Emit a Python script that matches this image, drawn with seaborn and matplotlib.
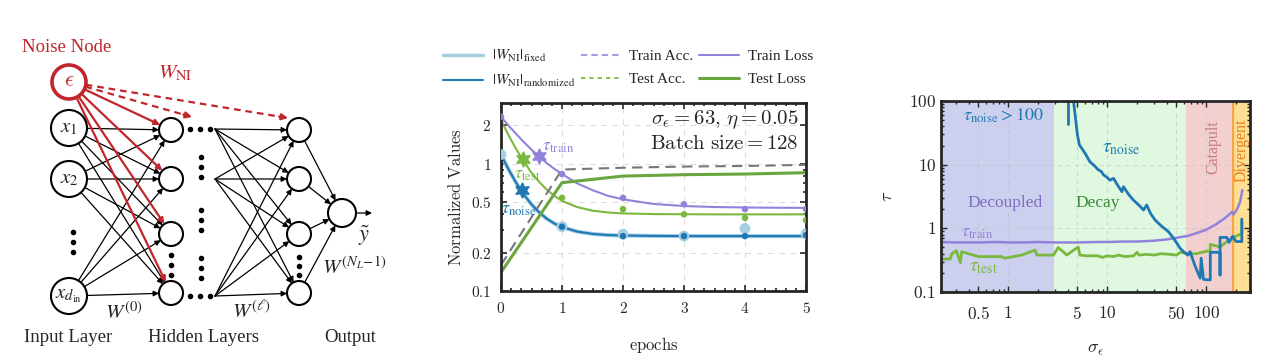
import numpy as np
import seaborn as sns
import matplotlib.pyplot as plt
from matplotlib.lines import Line2D
from matplotlib.patches import Circle
from matplotlib.ticker import FixedLocator, FuncFormatter, NullFormatter, LogLocator, MultipleLocator

sns.set_style('ticks')
plt.rcParams['font.family'] = ['Liberation Serif', 'DejaVu Serif']
plt.rcParams['mathtext.fontset'] = 'cm'

RED = '#c0262b'
BLUE = '#1f78b4'
LBLUE = '#a6cee3'
PURPLE = '#9283da'
GREEN = '#7ab83f'
DGREEN = '#6aa640'

# ---------------- panel b: training curves ----------------
epochs_fit = [0, 0.125, 0.25, 0.375, 0.5, 0.625, 0.75, 0.875, 1, 1.25, 1.5, 1.75, 2, 2.5, 3, 3.5, 4, 4.5, 5]
train_fit = [2.34, 1.99, 1.71, 1.48, 1.29, 1.14, 1.01, 0.91, 0.83, 0.70, 0.62, 0.56, 0.525, 0.483, 0.465, 0.457, 0.453, 0.451, 0.45]
test_fit = [2.2, 1.67, 1.30, 1.04, 0.85, 0.72, 0.625, 0.56, 0.51, 0.456, 0.428, 0.414, 0.407, 0.402, 0.401, 0.40, 0.40, 0.40, 0.40]
noise_fit = [1.18, 0.90, 0.706, 0.572, 0.479, 0.415, 0.37, 0.339, 0.318, 0.293, 0.281, 0.275, 0.273, 0.271, 0.27, 0.27, 0.27, 0.27, 0.27]

epochs = [0, 1, 2, 3, 4, 5]
train_pts = [2.34, 0.83, 0.54, 0.48, 0.44, 0.44]
test_pts = [2.2, 0.54, 0.44, 0.40, 0.375, 0.36]
noise_rand_pts = [1.18, 0.32, 0.27, 0.27, 0.27, 0.275]
noise_fixed_pts = [1.18, 0.32, 0.28, 0.27, 0.31, 0.28]
train_acc = [0.16, 0.90, 0.93, 0.95, 0.96, 0.98]
test_line = [0.14, 0.71, 0.80, 0.82, 0.83, 0.85]

tau_x = [0.62, 0.36, 0.34]
tau_y = [1.15, 1.08, 0.62]
tau_cols = [PURPLE, GREEN, BLUE]

# ---------------- panel c: timescales vs sigma ----------------
sig_train = [0.21, 0.3, 0.5, 0.8, 1, 1.5, 2, 3, 5, 8, 10, 15, 20, 30, 40, 50, 65, 80, 100, 125, 155, 182, 189, 205, 220, 232]
tau_train = [0.61, 0.60, 0.60, 0.61, 0.60, 0.60, 0.61, 0.60, 0.60, 0.61, 0.61, 0.62, 0.62, 0.64, 0.67, 0.71, 0.76, 0.84, 0.95, 1.15, 1.45, 1.8, 1.65, 2.0, 2.6, 4.0]

sig_test = [0.21, 0.26, 0.27, 0.30, 0.33, 0.34, 0.50, 0.86, 0.93, 1.37, 1.87, 1.95, 2.87, 3.2, 3.6, 3.9, 5.1, 5.3, 6.2, 8, 9, 10, 11.6,
            13, 15, 18.5, 20, 21, 25, 30, 35, 43, 50, 55, 64, 80, 110, 110, 138, 162, 189, 229, 229]
tau_test = [0.33, 0.33, 0.40, 0.445, 0.29, 0.43, 0.36, 0.36, 0.34, 0.38, 0.455, 0.38, 0.38, 0.50, 0.43, 0.38, 0.51, 0.38, 0.37, 0.37, 0.35, 0.37, 0.36,
            0.38, 0.36, 0.37, 0.42, 0.38, 0.39, 0.38, 0.40, 0.39, 0.38, 0.42, 0.40, 0.40, 0.45, 0.56, 0.51, 0.62, 0.72, 0.83, 1.3]

sig_noise_spike = [4.07, 4.07]
tau_noise_spike = [44, 150]
sig_noise = [4.3, 4.57, 4.75, 5.0, 5.25, 5.55, 6.0, 6.7, 7.5, 8.0, 8.8, 9.2, 10.0, 10.7, 11.6, 12.5, 14.1, 14.6, 16.5, 18.4, 21, 23.3,
             25.1, 27.5, 30.5, 35, 41.6, 46.8, 50, 54.6, 59.1, 65.5, 68.8, 77.7, 87, 89, 94, 105, 110, 110, 138, 138, 138, 162,
             170, 185, 200, 229, 229]
tau_noise = [150, 100, 60, 30, 20.3, 18, 15, 11.1, 9.5, 8.5, 7.7, 6.9, 6.3, 5.7, 6.1, 5.0, 3.76, 4.5, 3.4, 2.78, 2.3, 1.94,
             2.32, 1.7, 1.35, 1.1, 0.885, 0.70, 0.6, 0.485, 0.43, 0.38, 0.43, 0.25, 0.165, 0.34, 0.158, 0.155, 0.155, 0.42, 0.42, 0.185, 0.72, 0.72,
             0.6, 0.75, 0.62, 0.62, 1.4]

region_lo = [0.21, 2.9, 63, 187]
region_hi = [2.9, 63, 187, 277]
region_cols = ['#ccd0ee', '#dff8df', '#f3d0d0', '#fedf93']

fig = plt.figure(figsize=(12.69, 3.63), dpi=100)

# ---------------- panel a: network diagram ----------------
ax0 = fig.add_axes([0, 0, 420 / 1269, 1])
ax0.set_xlim(0, 420)
ax0.set_ylim(363, 0)
ax0.axis('off')

in_x, in_r = 69, 18
in_y = [128, 179, 296]
in_lab = [r'$x_1$', r'$x_2$', r'$x_{d_{\mathrm{in}}}$']
h1_x, h2_x, h_r = 171, 299, 12
hid_y = [130, 179, 234, 293]
mid_src_x = 215
mid_src_y = [129, 179, 296]
out_x, out_y, out_r = 342, 213, 14
eps_x, eps_y, eps_r = 69, 82, 17


def arrow(p, q, r1, r2, color='k', lw=1.0, dashed=False):
    p = np.array(p, float)
    q = np.array(q, float)
    u = (q - p) / np.hypot(*(q - p))
    a = p + u * r1
    b = q - u * r2
    if dashed:
        c = b - u * 6
        ax0.plot([a[0], c[0]], [a[1], c[1]], color=color, lw=lw, ls=(0, (3, 2.2)), zorder=2)
        ax0.annotate('', xy=b, xytext=b - u * 9,
                     arrowprops=dict(arrowstyle='-|>', color=color, lw=lw, mutation_scale=9, shrinkA=0, shrinkB=0))
    else:
        ax0.annotate('', xy=b, xytext=a,
                     arrowprops=dict(arrowstyle='-|>', color=color, lw=lw, mutation_scale=8, shrinkA=0, shrinkB=0),
                     zorder=2)


for y0 in in_y:
    for y1 in hid_y:
        arrow((in_x, y0), (h1_x, y1), in_r, h_r, lw=0.9)
for y0 in mid_src_y:
    for y1 in hid_y:
        arrow((mid_src_x, y0), (h2_x, y1), 0, h_r, lw=0.9)
for y1 in hid_y:
    arrow((h2_x, y1), (out_x, out_y), h_r, out_r, lw=0.9)
for y1 in hid_y:
    arrow((eps_x, eps_y), (h1_x, y1), eps_r, h_r, color=RED, lw=1.6)
arrow((eps_x, eps_y), (192, 117), eps_r, 0, color=RED, lw=1.6, dashed=True)
arrow((eps_x, eps_y), (288, 118), eps_r, 0, color=RED, lw=1.6, dashed=True)
arrow((out_x, out_y), (372, out_y), out_r, 0, lw=0.9)

for y0, lab in zip(in_y, in_lab):
    ax0.add_patch(Circle((in_x, y0), in_r, fc='white', ec='k', lw=1.5, zorder=3))
    ax0.text(in_x, y0, lab, ha='center', va='center', fontsize=15, math_fontfamily='stix', zorder=4)
for hx in [h1_x, h2_x]:
    for y1 in hid_y:
        ax0.add_patch(Circle((hx, y1), h_r, fc='white', ec='k', lw=1.5, zorder=3))
ax0.add_patch(Circle((out_x, out_y), out_r, fc='white', ec='k', lw=1.5, zorder=3))
ax0.add_patch(Circle((eps_x, eps_y), eps_r, fc='white', ec=RED, lw=2.6, zorder=3))
ax0.text(eps_x, eps_y, r'$\epsilon$', ha='center', va='center', fontsize=16, color=RED, zorder=4)

dot_x = [73, 73, 73, 171, 171, 171, 299, 299, 299, 190, 200, 210, 190, 200, 210,
         201, 201, 201, 201, 201, 201, 201, 201, 201]
dot_y = [232, 242, 252, 255, 265, 275, 257, 266, 275, 129, 129, 129, 296, 296, 296,
         157, 167, 177, 210, 220, 230, 258, 268, 278]
ax0.plot(dot_x, dot_y, 'o', color='k', ms=3, ls='none', zorder=4)

ax0.text(67, 48, 'Noise Node', color=RED, fontsize=13.5, ha='center', va='center')
ax0.text(175, 73, r'$W_{\mathrm{NI}}$', color=RED, fontsize=15, ha='center', va='center', math_fontfamily='stix')
ax0.text(364, 236, r'$\tilde{y}$', fontsize=16, ha='center', va='center', math_fontfamily='stix')
ax0.text(322, 268, r'$W^{(N_L\!-\!1)}$', fontsize=15, ha='left', va='center', math_fontfamily='stix')
ax0.text(124, 313, r'$W^{(0)}$', fontsize=15, ha='center', va='center', math_fontfamily='stix')
ax0.text(252, 313, r'$W^{(\ell)}$', fontsize=15, ha='center', va='center', math_fontfamily='stix')
ax0.text(68, 338, 'Input Layer', fontsize=13.5, ha='center', va='center')
ax0.text(203, 338, 'Hidden Layers', fontsize=13.5, ha='center', va='center')
ax0.text(350, 338, 'Output', fontsize=13.5, ha='center', va='center')

# ---------------- panel b ----------------
ax1 = fig.add_axes([501 / 1269, 72 / 363, 305 / 1269, 188 / 363])
ax1.set_yscale('log')
sns.lineplot(x=epochs_fit, y=noise_fit, color=LBLUE, lw=3, ax=ax1, estimator=None, sort=False)
sns.lineplot(x=epochs_fit, y=noise_fit, color=BLUE, lw=1.5, ax=ax1, estimator=None, sort=False)
sns.lineplot(x=epochs_fit, y=test_fit, color=GREEN, lw=1.5, ax=ax1, estimator=None, sort=False)
sns.lineplot(x=epochs_fit, y=train_fit, color=PURPLE, lw=1.5, ax=ax1, estimator=None, sort=False)
sns.lineplot(x=epochs, y=train_acc, color='#777777', lw=1.5, ls=(0, (5, 3)), ax=ax1, estimator=None, sort=False)
sns.lineplot(x=epochs, y=test_line, color=DGREEN, lw=2.2, ax=ax1, estimator=None, sort=False)
sns.scatterplot(x=epochs, y=noise_fixed_pts, color=LBLUE, s=60, edgecolor='none', ax=ax1, zorder=3)
sns.scatterplot(x=epochs[1:], y=noise_rand_pts[1:], color=BLUE, s=22, edgecolor='none', ax=ax1, zorder=4)
sns.scatterplot(x=epochs[1:], y=test_pts[1:], color=GREEN, s=22, edgecolor='none', ax=ax1, zorder=4)
sns.scatterplot(x=epochs, y=train_pts, color=PURPLE, s=22, edgecolor='none', ax=ax1, zorder=4)
for tx, ty, tc in zip(tau_x, tau_y, tau_cols):
    ax1.plot(tx, ty, marker=(6, 1, 0), ms=11, color=tc, zorder=5)

ax1.text(0.68, 1.36, r'$\tau_{\mathrm{train}}$', color=PURPLE, fontsize=13, ha='left', va='center', math_fontfamily='stix')
ax1.text(0.44, 0.82, r'$\tau_{\mathrm{test}}$', color=GREEN, fontsize=13, ha='center', va='center', math_fontfamily='stix')
ax1.text(0.29, 0.44, r'$\tau_{\mathrm{noise}}$', color=BLUE, fontsize=13, ha='center', va='center', math_fontfamily='stix')
ax1.text(0.975, 0.91, r'$\sigma_\epsilon = 63,\, \eta = 0.05$', transform=ax1.transAxes, fontsize=15, ha='right', va='center')
ax1.text(0.975, 0.78, r'$\mathrm{Batch\ size} = 128$', transform=ax1.transAxes, fontsize=15, ha='right', va='center')

ax1.set_xlim(0, 5)
ax1.set_ylim(0.1, 3.0)
ax1.xaxis.set_major_locator(FixedLocator(epochs))
ax1.xaxis.set_minor_locator(MultipleLocator(1 / 6))
ax1.xaxis.set_major_formatter(FuncFormatter(lambda v, p: r'$%d$' % v))
ax1.yaxis.set_major_locator(FixedLocator([0.1, 0.2, 0.5, 1, 2]))
ax1.yaxis.set_minor_locator(LogLocator(subs=np.arange(1, 10) * 1.0))
ax1.yaxis.set_major_formatter(FuncFormatter(lambda v, p: r'$%g$' % v))
ax1.yaxis.set_minor_formatter(NullFormatter())
ax1.tick_params(which='both', direction='in', top=True, right=True, labelsize=11, width=1.2)
ax1.tick_params(which='major', length=4, pad=7)
ax1.tick_params(which='minor', length=2.5)
ax1.grid(True, which='major', ls=(0, (5, 5)), color='#dddddd', lw=0.8)
for s in ax1.spines.values():
    s.set_linewidth(2)
ax1.set_xlabel(r'$\mathrm{epochs}$', fontsize=12, labelpad=14)
ax1.set_ylabel(r'$\mathrm{Normalized\ Values}$', fontsize=12, labelpad=4)

leg_handles = [Line2D([], [], color=LBLUE, lw=2.5), Line2D([], [], color=BLUE, lw=1.5),
               Line2D([], [], color='#a99be0', lw=1.5, ls=(0, (3, 2))), Line2D([], [], color='#8cc152', lw=1.5, ls=(0, (2, 2))),
               Line2D([], [], color=PURPLE, lw=1.5), Line2D([], [], color=DGREEN, lw=2.2)]
leg_labels = [r'$|W_{\mathrm{NI}}|_{\mathrm{fixed}}$', r'$|W_{\mathrm{NI}}|_{\mathrm{randomized}}$',
              'Train Acc.', 'Test Acc.', 'Train Loss', 'Test Loss']
leg = fig.legend(leg_handles, leg_labels, ncol=3, loc='upper left', bbox_to_anchor=(443 / 1269, 1 - 48 / 363),
                 frameon=False, fontsize=11, handlelength=2.6, handletextpad=0.6, columnspacing=0.35,
                 labelspacing=0.6, borderpad=0, borderaxespad=0)
for t in leg.get_texts():
    t.set_math_fontfamily('stix')

# ---------------- panel c ----------------
ax2 = fig.add_axes([941 / 1269, 71 / 363, 309 / 1269, 191 / 363])
ax2.set_xscale('log')
ax2.set_yscale('log')
for lo, hi, col in zip(region_lo, region_hi, region_cols):
    ax2.axvspan(lo, hi, color=col, lw=0, zorder=0)
ax2.axvline(region_lo[3], color='#f5a54a', lw=1.6, zorder=1)
sns.lineplot(x=sig_train, y=tau_train, color=PURPLE, lw=1.8, ax=ax2, estimator=None, sort=False)
sns.lineplot(x=sig_test, y=tau_test, color=GREEN, lw=2, ax=ax2, estimator=None, sort=False)
sns.lineplot(x=sig_noise, y=tau_noise, color=BLUE, lw=2, ax=ax2, estimator=None, sort=False)
sns.lineplot(x=sig_noise_spike, y=tau_noise_spike, color=BLUE, lw=2, ax=ax2, estimator=None, sort=False)

ax2.text(0.89, 58, r'$\tau_{\mathrm{noise}} > 100$', color=BLUE, fontsize=13, ha='center', va='center', math_fontfamily='stix')
ax2.text(8.9, 18, r'$\tau_{\mathrm{noise}}$', color=BLUE, fontsize=14, ha='left', va='center', math_fontfamily='stix')
ax2.text(0.93, 2.5, 'Decoupled', color='#7b70c0', fontsize=12.5, ha='center', va='center')
ax2.text(8.1, 2.5, 'Decay', color='#3c8a3c', fontsize=12.5, ha='center', va='center')
ax2.text(0.49, 0.86, r'$\tau_{\mathrm{train}}$', color=PURPLE, fontsize=13, ha='center', va='center', math_fontfamily='stix')
ax2.text(0.56, 0.24, r'$\tau_{\mathrm{test}}$', color=GREEN, fontsize=14, ha='center', va='center', math_fontfamily='stix')
ax2.text(118, 19, 'Catapult', color='#c97b7b', fontsize=11.5, rotation=90, ha='center', va='center')
ax2.text(229, 17, 'Divergent', color='#e8801c', fontsize=11.5, rotation=90, ha='center', va='center')

ax2.set_xlim(0.21, 277)
ax2.set_ylim(0.1, 100)
ax2.xaxis.set_major_locator(FixedLocator([0.5, 1, 5, 10, 50, 100]))
ax2.xaxis.set_major_formatter(FuncFormatter(lambda v, p: r'$%g$' % v))
ax2.xaxis.set_minor_locator(LogLocator(subs=np.arange(1, 10) * 1.0))
ax2.xaxis.set_minor_formatter(NullFormatter())
ax2.yaxis.set_major_locator(FixedLocator([0.1, 1, 10, 100]))
ax2.yaxis.set_major_formatter(FuncFormatter(lambda v, p: r'$%g$' % v))
ax2.yaxis.set_minor_locator(LogLocator(subs=np.arange(1, 10) * 1.0))
ax2.yaxis.set_minor_formatter(NullFormatter())
ax2.tick_params(which='both', direction='in', top=True, right=True, labelsize=12.5, width=1.0)
ax2.tick_params(which='major', length=4)
ax2.tick_params(axis='x', which='major', pad=10)
ax2.tick_params(which='minor', length=2.5)
ax2.grid(True, which='major', ls=(0, (5, 5)), color='#bbbbbb', lw=0.6, alpha=0.6)
for s in ax2.spines.values():
    s.set_linewidth(2)
ax2.set_xlabel(r'$\sigma_\epsilon$', fontsize=13, labelpad=12)
ax2.set_ylabel(r'$\tau$', fontsize=13, labelpad=9)

fig.savefig('out.png', dpi=100)
